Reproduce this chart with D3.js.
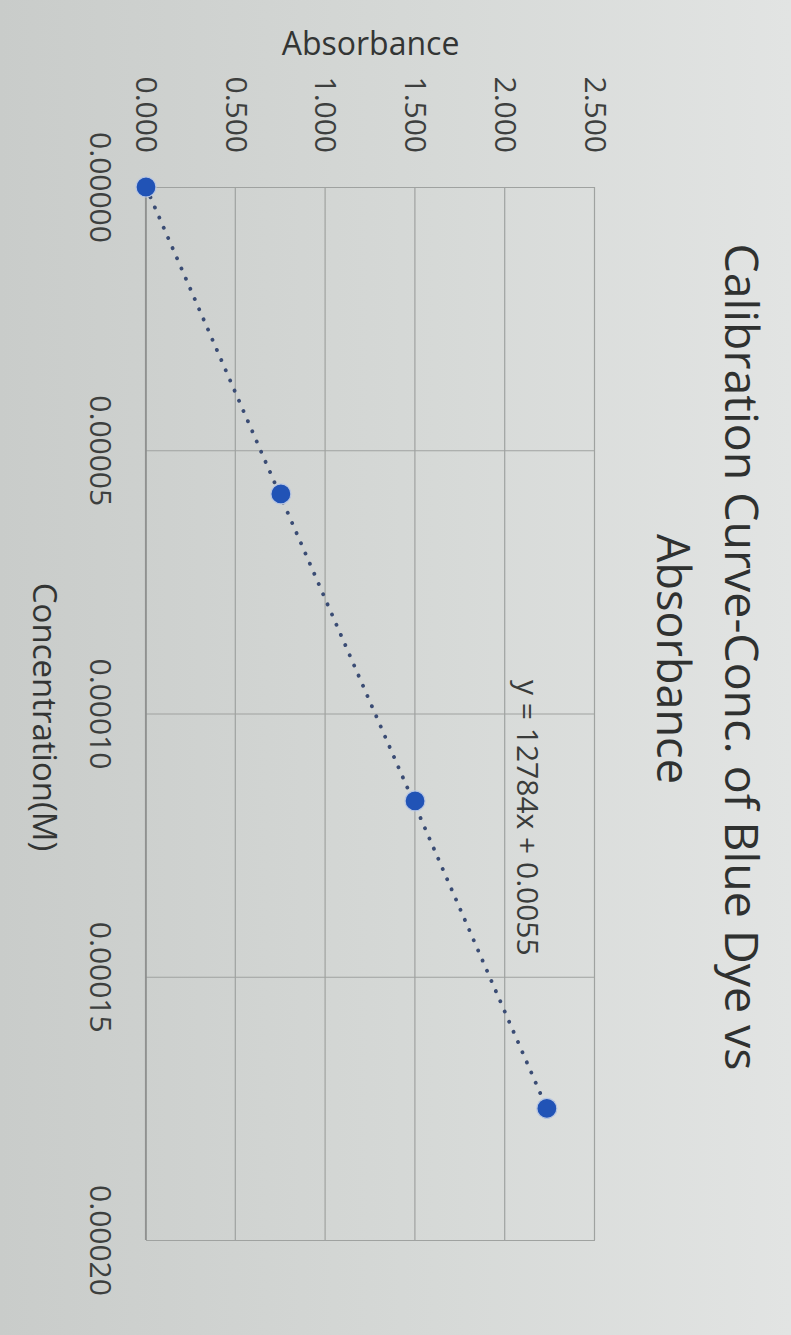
<!DOCTYPE html>
<html>
<head>
<meta charset="utf-8">
<script src="https://cdn.jsdelivr.net/npm/d3@7"></script>
<style>
  html, body { margin: 0; padding: 0; background: #d6d8d7; }
  svg { display: block; }
</style>
</head>
<body>
<div id="chart"></div>
<script>
// data
const concentration = [0, 0.0000583, 0.0001166, 0.000175];
const absorbance = [0, 0.751, 1.498, 2.232];
const concTicks = [0, 0.00005, 0.0001, 0.00015, 0.0002];
const absTicks = [0, 0.5, 1.0, 1.5, 2.0, 2.5];
const titleLines = ['Calibration Curve-Conc. of Blue Dye vs', 'Absorbance'];
const equation = 'y = 12784x + 0.0055';

// page is the photo size, chart is drawn turned a quarter clockwise
const W = 791, H = 1335;
const font = "'Open Sans', 'Noto Sans', sans-serif";

const svg = d3.select('#chart').append('svg')
    .attr('width', W)
    .attr('height', H);

// photo background, a bit darker on the left
const grad = svg.append('defs').append('linearGradient')
    .attr('id', 'bg').attr('x1', 0).attr('x2', 1).attr('y1', 0).attr('y2', 0);
grad.append('stop').attr('offset', '0%').attr('stop-color', '#c9ccca');
grad.append('stop').attr('offset', '55%').attr('stop-color', '#d6d9d7');
grad.append('stop').attr('offset', '100%').attr('stop-color', '#e2e4e3');
svg.append('rect').attr('width', W).attr('height', H).attr('fill', 'url(#bg)');

// g is the chart in its own orientation: u across (1335), v down (791)
const g = svg.append('g').attr('transform', `translate(${W},0) rotate(90)`);

const x = d3.scaleLinear().domain([0, 0.0002]).range([187, 1240]);
const y = d3.scaleLinear().domain([0, 2.5]).range([645, 196]);

//gridlines
const gridColor = '#9fa2a0';
const xGrid = g.append('g')
    .attr('transform', `translate(0,${y(0)})`)
    .call(d3.axisBottom(x).tickValues(concTicks).tickSize(-(y(0) - y(2.5))).tickFormat(''));
const yGrid = g.append('g')
    .attr('transform', `translate(${x(0)},0)`)
    .call(d3.axisLeft(y).tickValues(absTicks).tickSize(-(x(0.0002) - x(0))).tickFormat(''));
[xGrid, yGrid].forEach(a => {
    a.select('.domain').remove();
    a.selectAll('line').attr('stroke', gridColor).attr('stroke-width', 1.2);
});
// axis line at absorbance 0
g.append('line')
    .attr('x1', x(0)).attr('x2', x(0.0002))
    .attr('y1', y(0)).attr('y2', y(0))
    .attr('stroke', '#8c8e8d').attr('stroke-width', 1.6);

//tick labels
const xAxis = g.append('g')
    .attr('transform', `translate(0,${y(0)})`)
    .call(d3.axisBottom(x).tickValues(concTicks).tickSize(0).tickPadding(35).tickFormat(d3.format('.5f')));
const yAxis = g.append('g')
    .attr('transform', `translate(${x(0)},0)`)
    .call(d3.axisLeft(y).tickValues(absTicks).tickSize(0).tickPadding(34).tickFormat(d3.format('.3f')));
[xAxis, yAxis].forEach(a => {
    a.select('.domain').remove();
    a.selectAll('text')
        .style('font-family', font)
        .style('font-size', '30px')
        .attr('fill', '#3d3f3e');
});

//trendline, dotted
const pts = concentration.map((c, i) => [c, absorbance[i]]);
const first = pts[0], last = pts[pts.length - 1];
g.append('line')
    .attr('x1', x(first[0])).attr('y1', y(first[1]))
    .attr('x2', x(last[0])).attr('y2', y(last[1]))
    .attr('stroke', '#3a4c74')
    .attr('stroke-width', 3.8)
    .attr('stroke-linecap', 'round')
    .attr('stroke-dasharray', '0.1 11');

//markers
g.append('g').selectAll('circle')
    .data(pts)
    .enter()
    .append('circle')
    .attr('cx', d => x(d[0]))
    .attr('cy', d => y(d[1]))
    .attr('r', 10)
    .attr('fill', '#2153b6')
    .attr('stroke', '#b8c6e2')
    .attr('stroke-width', 1.2);

//equation label
g.append('text')
    .attr('x', 680)
    .attr('y', 274)
    .style('font-family', font)
    .style('font-size', '30px')
    .attr('fill', '#3a3c3b')
    .text(equation);

//title
g.append('g').selectAll('text')
    .data(titleLines)
    .enter()
    .append('text')
    .attr('x', (d, i) => i === 0 ? 657 : 659)
    .attr('y', (d, i) => 66 + i * 68)
    .attr('text-anchor', 'middle')
    .style('font-family', font)
    .style('font-size', (d, i) => i === 0 ? '46.5px' : '45px')
    .attr('fill', '#2f3130')
    .text(d => d);

//x-axis label
g.append('text')
    .attr('x', 717)
    .attr('y', 758)
    .attr('text-anchor', 'middle')
    .style('font-family', font)
    .style('font-size', '33px')
    .attr('fill', '#333534')
    .text('Concentration(M)');

//y-axis label
g.append('text')
    .attr('transform', `translate(55,${(y(0) + y(2.5)) / 2}) rotate(-90)`)
    .attr('text-anchor', 'middle')
    .style('font-family', font)
    .style('font-size', '32px')
    .attr('fill', '#333534')
    .text('Absorbance');
</script>
</body>
</html>
